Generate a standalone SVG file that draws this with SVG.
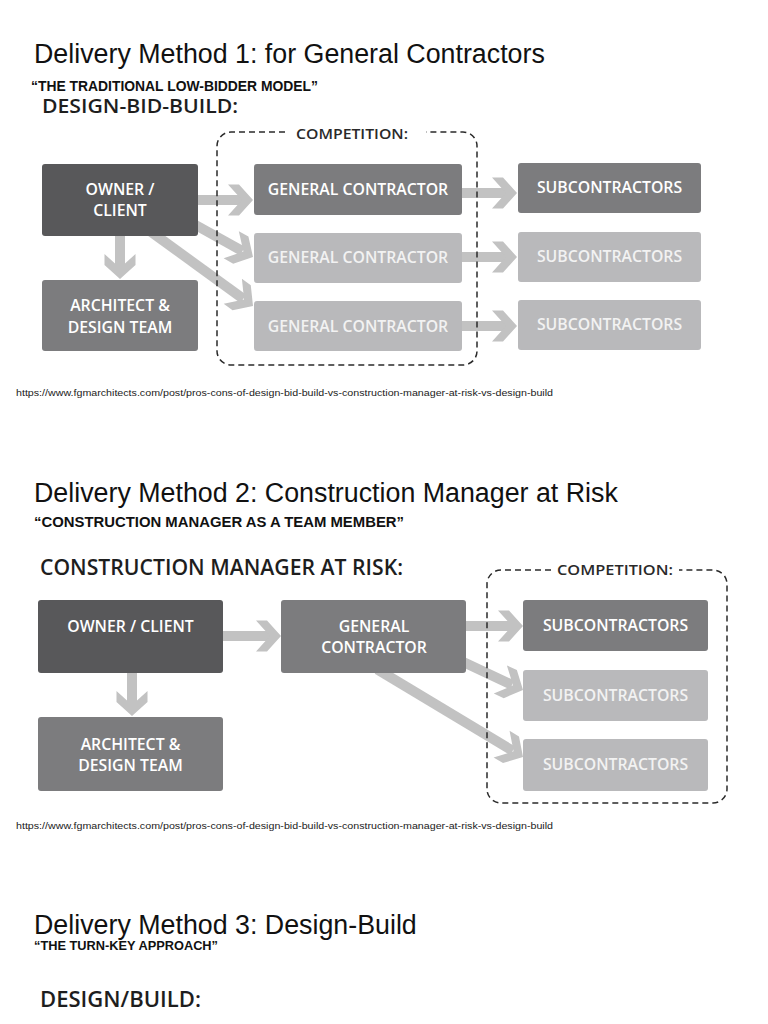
<svg xmlns="http://www.w3.org/2000/svg" xmlns:xlink="http://www.w3.org/1999/xlink" width="768" height="1024" viewBox="0 0 768 1024">
<style>
.title{font-family:"Liberation Sans",Arial,sans-serif;font-size:26.8px;fill:#111}
.sub{font-family:"Liberation Sans",Arial,sans-serif;font-weight:bold;fill:#111}
.url{font-family:"Liberation Sans",Arial,sans-serif;font-size:9.5px;fill:#222}
.head{font-family:"Open Sans","Noto Sans",sans-serif;font-weight:600;fill:#1e1e1e}
.comp{font-family:"Open Sans","Noto Sans",sans-serif;font-weight:600;font-size:14px;fill:#2a2a2a}
.lbl{font-family:"Open Sans","Noto Sans",sans-serif;font-weight:600;font-size:15.8px;fill:#ffffff;text-anchor:middle}
.lbl2{font-family:"Open Sans","Noto Sans",sans-serif;font-weight:600;font-size:15.8px;fill:#f2f2f2;text-anchor:middle}
.dark{fill:#58585a}
.mid{fill:#7c7c7e}
.light{fill:#b9b9bb}
.shaft{stroke:#c2c2c2;stroke-width:10;fill:none}
.ah{fill:#c2c2c2}
.dash{fill:none;stroke:#2a2a2a;stroke-width:1.5;stroke-dasharray:6 4}
</style>
<defs>
<path id="arrowhead" d="M0,0 L-14,-15.5 L-25,-15.5 L-11,0 L-25,15.5 L-14,15.5 Z"/>
</defs>
<rect width="768" height="1024" fill="#ffffff"/>

<!-- Section 1 headings -->
<text class="title" x="34" y="63">Delivery Method 1: for General Contractors</text>
<text class="sub" x="31" y="91" font-size="13.8" textLength="287" lengthAdjust="spacingAndGlyphs">“THE TRADITIONAL LOW-BIDDER MODEL”</text>
<text class="head" x="42" y="113" font-size="20" textLength="196" lengthAdjust="spacingAndGlyphs">DESIGN-BID-BUILD:</text>

<g id="connectors-1">
<line class="shaft" x1="190" y1="200" x2="242" y2="200"/>
<use href="#arrowhead" class="ah" transform="translate(253,200)"/>
<line class="shaft" x1="183" y1="218" x2="242.5" y2="251.1"/>
<use href="#arrowhead" class="ah" transform="translate(253,257) rotate(29.4)"/>
<line class="shaft" x1="148" y1="229.6" x2="243.3" y2="298.9"/>
<use href="#arrowhead" class="ah" transform="translate(253,306) rotate(36)"/>
<line class="shaft" x1="120" y1="230" x2="120" y2="268"/>
<use href="#arrowhead" class="ah" transform="translate(120,279) rotate(90)"/>
<line class="shaft" x1="455" y1="193" x2="506" y2="193"/>
<use href="#arrowhead" class="ah" transform="translate(517,193)"/>
<line class="shaft" x1="455" y1="257" x2="506" y2="257"/>
<use href="#arrowhead" class="ah" transform="translate(517,257)"/>
<line class="shaft" x1="455" y1="326" x2="506" y2="326"/>
<use href="#arrowhead" class="ah" transform="translate(517,326)"/>
</g>

<g id="competition-1">
<path class="dash" d="M285,132 H231 A14,14 0 0 0 217,146 V351 A14,14 0 0 0 231,365 H463 A14,14 0 0 0 477,351 V146 A14,14 0 0 0 463,132 H426"/>
<text class="comp" x="296" y="139" textLength="112" lengthAdjust="spacingAndGlyphs">COMPETITION:</text>
</g>

<g id="owner-1">
<rect class="dark" x="42" y="164" width="156" height="72" rx="3"/>
<text class="lbl" x="120" y="195">OWNER /</text>
<text class="lbl" x="120" y="216">CLIENT</text>
</g>
<g id="architect-1">
<rect class="mid" x="42" y="280" width="156" height="71" rx="3"/>
<text class="lbl" x="120" y="311">ARCHITECT &amp;</text>
<text class="lbl" x="120" y="333">DESIGN TEAM</text>
</g>
<g id="gc-1a">
<rect class="mid" x="254" y="164" width="208" height="51" rx="3"/>
<text class="lbl" x="358" y="195">GENERAL CONTRACTOR</text>
</g>
<g id="gc-1b">
<rect class="light" x="254" y="233" width="208" height="50" rx="3"/>
<text class="lbl2" x="358" y="263">GENERAL CONTRACTOR</text>
</g>
<g id="gc-1c">
<rect class="light" x="254" y="301" width="208" height="50" rx="3"/>
<text class="lbl2" x="358" y="332">GENERAL CONTRACTOR</text>
</g>
<g id="sub-1a">
<rect class="mid" x="518" y="163" width="183" height="50" rx="3"/>
<text class="lbl" x="609.5" y="193">SUBCONTRACTORS</text>
</g>
<g id="sub-1b">
<rect class="light" x="518" y="232" width="183" height="50" rx="3"/>
<text class="lbl2" x="609.5" y="262">SUBCONTRACTORS</text>
</g>
<g id="sub-1c">
<rect class="light" x="518" y="300" width="183" height="50" rx="3"/>
<text class="lbl2" x="609.5" y="330">SUBCONTRACTORS</text>
</g>

<text class="url" x="16" y="396" textLength="537" lengthAdjust="spacingAndGlyphs">https://www.fgmarchitects.com/post/pros-cons-of-design-bid-build-vs-construction-manager-at-risk-vs-design-build</text>

<!-- Section 2 -->
<text class="title" x="34" y="502">Delivery Method 2: Construction Manager at Risk</text>
<text class="sub" x="34" y="527" font-size="14.8" textLength="370" lengthAdjust="spacingAndGlyphs" fill="#222">“CONSTRUCTION MANAGER AS A TEAM MEMBER”</text>
<text class="head" x="40" y="575" font-size="21" textLength="363" lengthAdjust="spacingAndGlyphs">CONSTRUCTION MANAGER AT RISK:</text>

<g id="connectors-2">
<line class="shaft" x1="215" y1="636" x2="270" y2="636"/>
<use href="#arrowhead" class="ah" transform="translate(281,636)"/>
<line class="shaft" x1="132" y1="665" x2="132" y2="705"/>
<use href="#arrowhead" class="ah" transform="translate(132,716) rotate(90)"/>
<line class="shaft" x1="460" y1="626" x2="512" y2="626"/>
<use href="#arrowhead" class="ah" transform="translate(523,626)"/>
<line class="shaft" x1="450.5" y1="656" x2="512.1" y2="684.9"/>
<use href="#arrowhead" class="ah" transform="translate(523,690) rotate(25)"/>
<line class="shaft" x1="377.3" y1="669.4" x2="512.7" y2="750.8"/>
<use href="#arrowhead" class="ah" transform="translate(523,757) rotate(31)"/>
</g>

<g id="competition-2">
<path class="dash" d="M551,570 H501 A14,14 0 0 0 487,584 V789 A14,14 0 0 0 501,803 H713 A14,14 0 0 0 727,789 V584 A14,14 0 0 0 713,570 H679"/>
<text class="comp" x="557" y="575" textLength="116" lengthAdjust="spacingAndGlyphs">COMPETITION:</text>
</g>

<g id="owner-2">
<rect class="dark" x="38" y="600" width="185" height="73" rx="3"/>
<text class="lbl" x="130.5" y="632">OWNER / CLIENT</text>
</g>
<g id="architect-2">
<rect class="mid" x="38" y="717" width="185" height="74" rx="3"/>
<text class="lbl" x="130.5" y="750">ARCHITECT &amp;</text>
<text class="lbl" x="130.5" y="771">DESIGN TEAM</text>
</g>
<g id="gc-2">
<rect class="mid" x="281" y="600" width="185" height="73" rx="3"/>
<text class="lbl" x="374" y="632">GENERAL</text>
<text class="lbl" x="374" y="653">CONTRACTOR</text>
</g>
<g id="sub-2a">
<rect class="mid" x="523" y="600" width="185" height="51" rx="3"/>
<text class="lbl" x="615.5" y="631">SUBCONTRACTORS</text>
</g>
<g id="sub-2b">
<rect class="light" x="523" y="670" width="185" height="51" rx="3"/>
<text class="lbl2" x="615.5" y="701">SUBCONTRACTORS</text>
</g>
<g id="sub-2c">
<rect class="light" x="523" y="739" width="185" height="52" rx="3"/>
<text class="lbl2" x="615.5" y="770">SUBCONTRACTORS</text>
</g>

<text class="url" x="16" y="829" textLength="537" lengthAdjust="spacingAndGlyphs">https://www.fgmarchitects.com/post/pros-cons-of-design-bid-build-vs-construction-manager-at-risk-vs-design-build</text>

<!-- Section 3 -->
<text class="title" x="34" y="934">Delivery Method 3: Design-Build</text>
<text class="sub" x="34" y="950" font-size="13" textLength="184" lengthAdjust="spacingAndGlyphs" fill="#333">“THE TURN-KEY APPROACH”</text>
<text class="head" x="40" y="1007" font-size="22" textLength="161" lengthAdjust="spacingAndGlyphs">DESIGN/BUILD:</text>
</svg>
